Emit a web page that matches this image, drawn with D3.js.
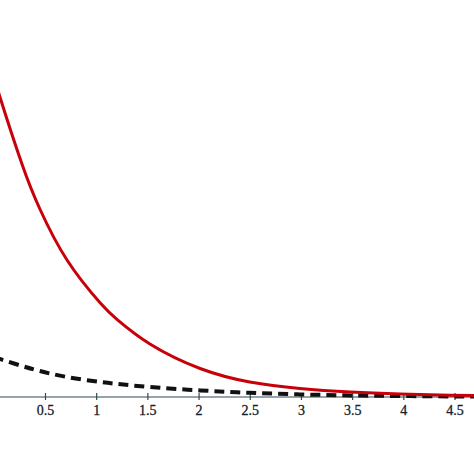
<!DOCTYPE html>
<html>
<head>
<meta charset="utf-8">
<script src="https://cdn.jsdelivr.net/npm/d3@7"></script>
<style>
  html, body { margin: 0; padding: 0; background: #fff; overflow: hidden; }
  svg { display: block; }
</style>
</head>
<body>
<div id="chart"></div>
<script>
// sampled curves (x in data units, y in arbitrary units)
var xs      = [0, 0.06, 0.275, 0.45, 0.715, 1.04, 1.21, 1.525, 2.015, 2.5, 2.99, 3.48, 3.97, 4.45, 4.7];
var redVals = [3.22, 3.0, 2.33, 1.88, 1.37, 0.94, 0.77, 0.53, 0.285, 0.15, 0.085, 0.05, 0.03, 0.018, 0.014];
var blkVals = [0.40, 0.38, 0.31, 0.26, 0.20, 0.15, 0.13, 0.10, 0.066, 0.042, 0.026, 0.016, 0.010, 0.006, 0.005];
var tickVals = [0.5, 1, 1.5, 2, 2.5, 3, 3.5, 4, 4.5];

var width = 474, height = 474;

var x = d3.scaleLinear().domain([0, 4.7]).range([-6.2, 475]);
var y = d3.scaleLinear().domain([0, 3.5]).range([397, 47]);

var svg = d3.select("#chart").append("svg")
    .attr("width", width)
    .attr("height", height);

var line = d3.line()
    .x(function(d) { return x(d[0]); })
    .y(function(d) { return y(d[1]); })
    .curve(d3.curveNatural);

// axis
var axis = svg.append("g")
    .attr("class", "axis")
    .attr("transform", "translate(0," + y(0) + ")")
    .call(d3.axisBottom(x).tickValues(tickVals).tickSize(3).tickPadding(5)
        .tickFormat(function(d) { return d; }));
axis.attr("font-family", "'Liberation Serif', 'DejaVu Serif', serif").attr("font-size", 14);
axis.select(".domain").attr("d", "M-10,0H480").attr("stroke", "#2f4a52").attr("stroke-width", 1.2);
axis.selectAll(".tick line").attr("y1", -4).attr("y2", 3).attr("stroke", "#2f4a52").attr("stroke-width", 1.2);
axis.selectAll(".tick text")
    .style("font-family", "'Liberation Serif', 'DejaVu Serif', serif")
    .style("font-size", "14px")
    .attr("fill", "#14202a")
    .attr("stroke", "#14202a")
    .attr("stroke-width", 0.3);

svg.append("path")
    .datum(xs.map(function(d, i) { return [d, blkVals[i]]; }))
    .attr("fill", "none")
    .attr("stroke", "#111")
    .attr("stroke-width", 4)
    .attr("stroke-dasharray", "10,6")
    .attr("d", line);

svg.append("path")
    .datum(xs.map(function(d, i) { return [d, redVals[i]]; }))
    .attr("fill", "none")
    .attr("stroke", "#c8000a")
    .attr("stroke-width", 3)
    .attr("d", line);
</script>
</body>
</html>
